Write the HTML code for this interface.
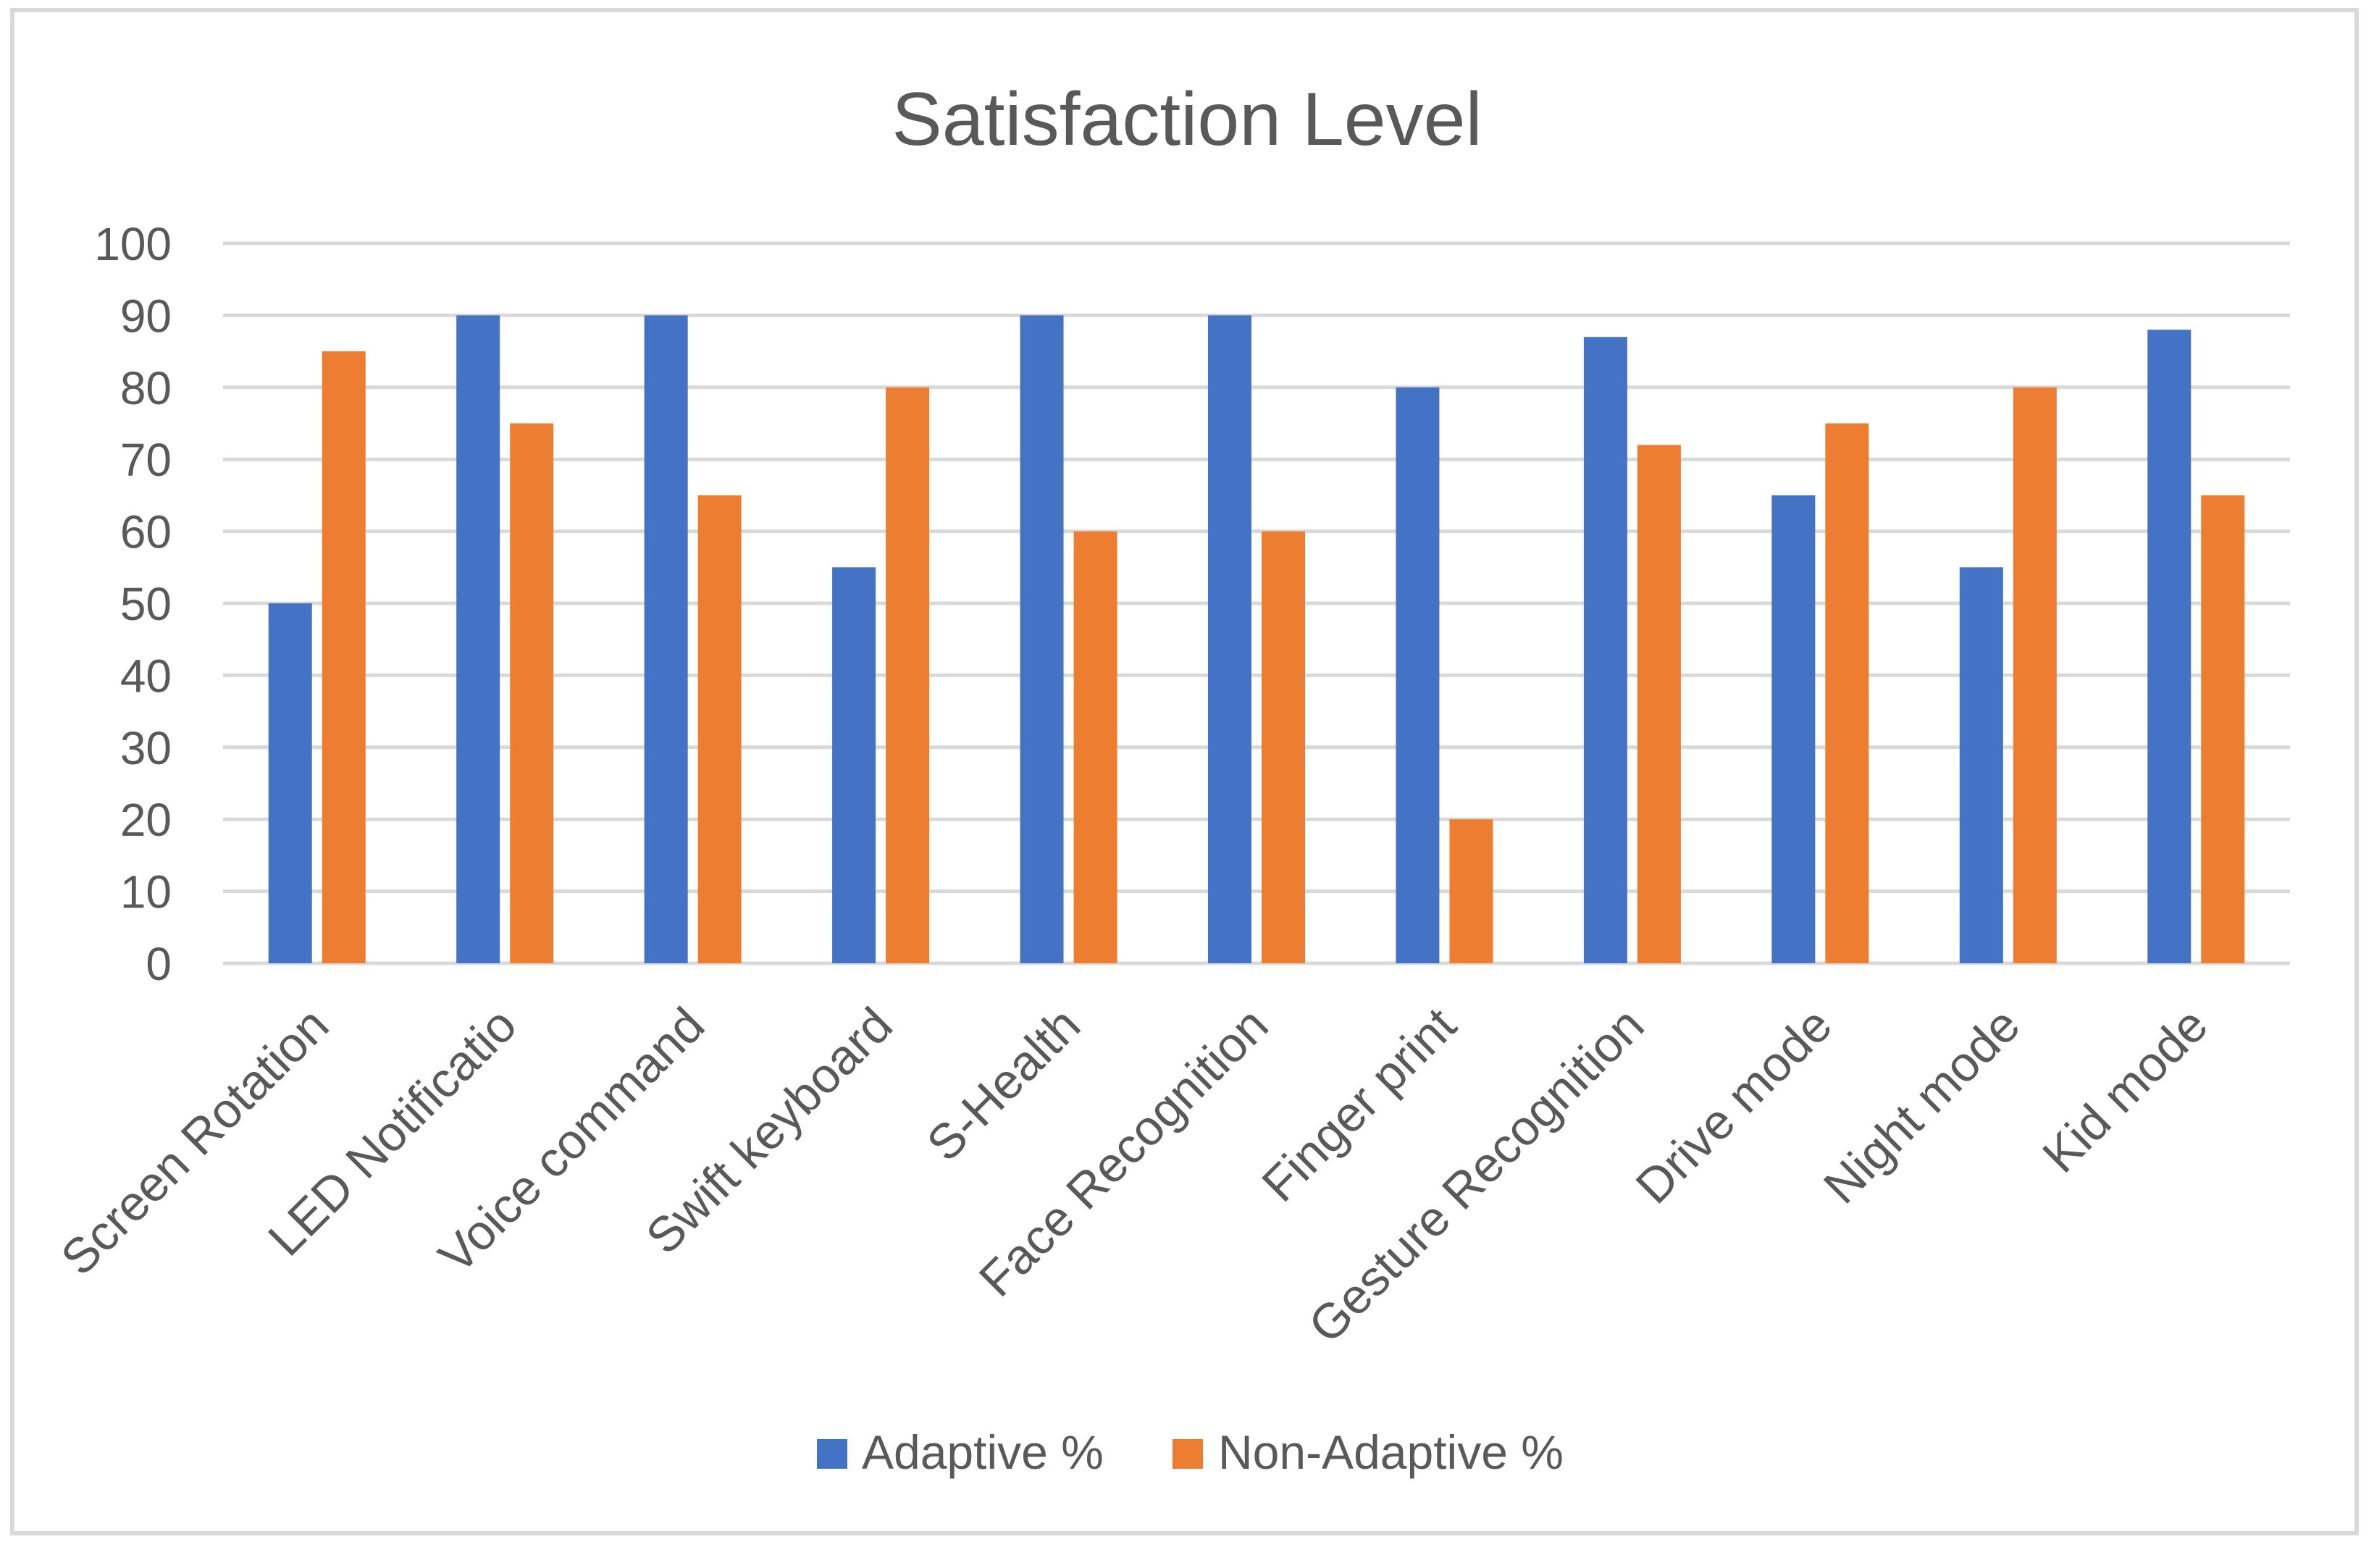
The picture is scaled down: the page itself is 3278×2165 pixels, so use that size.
<!DOCTYPE html>
<html><head><meta charset="utf-8"><style>
html,body{margin:0;padding:0;background:#fff;}
svg{display:block;font-family:"Liberation Sans",sans-serif;}
</style></head><body>
<svg id="chart" width="3278" height="2165" viewBox="0 0 3278 2165">
<rect x="17" y="14" width="3237" height="2103" fill="#fff" stroke="#d9d9d9" stroke-width="6"/>
<text x="1639" y="200" text-anchor="middle" font-size="104" fill="#595959">Satisfaction Level</text>
<g id="grid"></g>
<g id="yticks"></g>
<g id="bars"></g>
<g id="xlabels"></g>
<g>
<g>
<rect x="1128" y="1987" width="42" height="41" fill="#4472c4"/>
<text x="1190" y="2028" font-size="66" fill="#595959">Adaptive %</text>
</g>
<g>
<rect x="1619" y="1987" width="42" height="41" fill="#ed7d31"/>
<text x="1682" y="2028" font-size="66" fill="#595959">Non-Adaptive %</text>
</g>
</g>
</svg>
<script>
const categories = ["Screen Rotation","LED Notificatio","Voice command","Swift keyboard","S-Health","Face Recognition","Finger print","Gesture Recognition","Drive mode","Night mode","Kid mode"];
const adaptive = [50,90,90,55,90,90,80,87,65,55,88];
const nonAdaptive = [85,75,65,80,60,60,20,72,75,80,65];
const yTicks = [0,10,20,30,40,50,60,70,80,90,100];

const NS = "http://www.w3.org/2000/svg";
const plotL = 308, plotR = 3162, plotT = 336, plotB = 1330;
const yMax = 100;
function y(v){ return plotB - (v / yMax) * (plotB - plotT); }
const band = (plotR - plotL) / categories.length;
function xc(i){ return plotL + band * (i + 0.5); }
const barW = 60, gap = 14;

function mk(tag, attrs){ const e = document.createElementNS(NS, tag); for (const k in attrs) e.setAttribute(k, attrs[k]); return e; }

const grid = document.getElementById('grid');
const yt = document.getElementById('yticks');
yTicks.forEach(t => {
  const l = mk('line', {x1: plotL, x2: plotR, y1: y(t), y2: y(t), stroke: '#d9d9d9', 'stroke-width': 5});
  
  
  grid.appendChild(l);
  const tx = mk('text', {x: 237, y: y(t) + 23, 'text-anchor': 'end', 'font-size': 64, fill: '#595959'});
  tx.textContent = t;
  
  
  yt.appendChild(tx);
});

const bars = document.getElementById('bars');
const xl = document.getElementById('xlabels');
categories.forEach((c, i) => {
  const cx = xc(i);
  const b1 = mk('rect', {x: cx - gap/2 - barW, y: y(adaptive[i]), width: barW, height: y(0) - y(adaptive[i]), fill: '#4472c4'});
  
  
  bars.appendChild(b1);
  const b2 = mk('rect', {x: cx + gap/2, y: y(nonAdaptive[i]), width: barW, height: y(0) - y(nonAdaptive[i]), fill: '#ed7d31'});
  
  
  bars.appendChild(b2);
  const ax = cx + 20, ay = 1420;
  const t = mk('text', {x: ax, y: ay, 'text-anchor': 'end', 'font-size': 68, fill: '#595959', transform: 'rotate(-45 ' + ax + ' ' + ay + ')'});
  t.textContent = c;
  
  
  xl.appendChild(t);
});
</script>
</body></html>
